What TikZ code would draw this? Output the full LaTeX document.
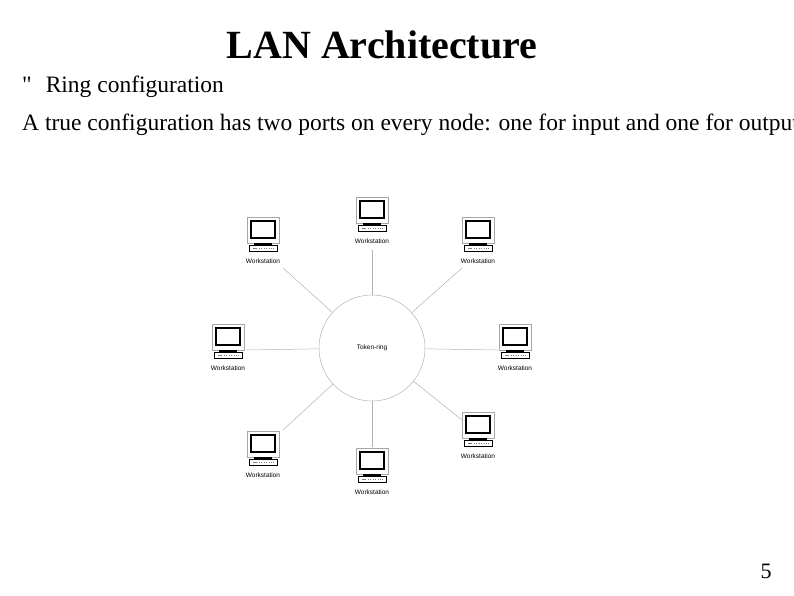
\documentclass[tikz,border=0pt]{standalone}
\usepackage{fontspec}
\setmainfont{Liberation Serif}
\newfontfamily\labfont{Liberation Sans}
\begin{document}
\begin{tikzpicture}[x=1pt,y=-1pt,
  lab/.style={font=\labfont\fontsize{6.5}{7}\selectfont,inner sep=0},
  link/.style={draw=gray!60,line width=0.5pt},
  txt/.style={anchor=west,inner sep=0,font=\fontsize{23.5}{26}\selectfont}]
\useasboundingbox (0,0) rectangle (794,595);
\clip (0,0) rectangle (794,595);
\newcommand\wsicon[3]{% x y name
  \begin{scope}[shift={(#1,#2)}]
  \draw[gray!70,line width=0.6pt,fill=white] (-16,-16) rectangle (16,10);
  \draw[black,line width=2pt] (-12,-12) rectangle (12,5);
  \fill[black] (-9,10) rectangle (9,12);
  \draw[black,line width=0.5pt,fill=white] (-14,12) rectangle (14,18);
  \draw[gray,line width=0.4pt] (-10,15) -- (-6,15);
  \draw[gray,dotted,line width=0.4pt] (-4,15) -- (11,15);
  \end{scope}
  \node[lab] (#3) at (#1+0,#2+28) {Workstation};}
\node[txt,anchor=center,font=\bfseries\fontsize{40}{44}\selectfont] (title) at (382,45) {LAN Architecture};
\node[txt] (b1) at (22,87) {\textquotedbl\hspace{14pt}Ring configuration};
\node[txt] (b2) at (22,125) {A true configuration has two ports on every node: one for input and one for output};
\node[inner sep=0,font=\fontsize{22}{24}\selectfont] (pg) at (766,571) {5};
\node[circle,draw=gray!60,line width=0.5pt,minimum size=106pt,inner sep=0] (ring) at (372,348) {};
\node[lab] (rl) at (372,348) {Token-ring};
\wsicon{372}{213}{w1}
\wsicon{263}{233}{w2}
\wsicon{478}{233}{w3}
\wsicon{228}{340}{w4}
\wsicon{515}{340}{w5}
\wsicon{478}{428}{w6}
\wsicon{263}{447}{w7}
\wsicon{372}{464}{w8}
\coordinate (c1) at (372,250);
\coordinate (c2) at (283,268);
\coordinate (c3) at (462,268);
\coordinate (c4) at (246,350);
\coordinate (c5) at (498,350);
\coordinate (c6) at (462,420);
\coordinate (c7) at (283,430);
\coordinate (c8) at (372,447);
\foreach \i in {1,...,8}{\draw[link] (ring) -- (c\i);}
\end{tikzpicture}
\end{document}
